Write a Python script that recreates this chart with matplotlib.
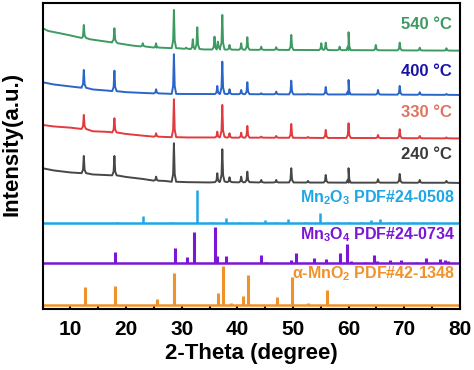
import matplotlib
matplotlib.use('Agg')
import matplotlib.pyplot as plt
import numpy as np

plt.rcParams['font.family'] = ['Liberation Sans', 'DejaVu Sans']
plt.rcParams['font.weight'] = 'bold'
plt.rcParams['mathtext.fontset'] = 'custom'
plt.rcParams['mathtext.rm'] = 'Liberation Sans:bold'
plt.rcParams['mathtext.it'] = 'Liberation Sans:bold'
plt.rcParams['mathtext.bf'] = 'Liberation Sans:bold'

###*** measured patterns: background points (2theta, I) and peaks (2theta, base, top)
bg_240 = [(5, 14.7), (7, 12.5), (10, 10.5), (14, 8.5), (16, 8), (20, 6), (23, 4),
          (27, 2), (31, 0.8), (35, 0.5), (45, 0.4), (60, 0.3), (80, 0)]
pk_240 = [(12.4, 9.8, 27), (17.9, 7.6, 27), (25.4, 2.3, 6.3), (28.6, 1.2, 39.7),
          (36.4, 0.8, 9.7), (37.3, 1.5, 33.7), (38.6, 0.8, 5.7), (40.7, 0.6, 6.3),
          (41.8, 0.8, 11.3), (44.3, 0.5, 3), (47.0, 0.5, 3), (49.7, 0.5, 14.7),
          (52.7, 0.4, 2), (55.9, 0.4, 8), (60.0, 0.3, 14.7), (65.3, 0.3, 3.7),
          (69.2, 0.3, 9), (72.8, 0.2, 3), (77.6, 0.2, 2)]

bg_330 = [(5, 13.5), (7, 12), (10, 10.8), (14, 7.2), (17, 6.5), (20, 4.5), (23, 2.8),
          (27, 1.5), (31, 1), (40, 0.8), (50, 0.7), (80, 0)]
pk_330 = [(12.4, 9.5, 23.5), (17.9, 6, 20.2), (25.4, 1.8, 5.2), (28.6, 1.3, 39.2),
          (36.4, 1, 6.8), (37.3, 1.5, 33.5), (38.6, 0.8, 5.2), (40.7, 0.8, 5.8),
          (41.8, 0.8, 12.5), (44.3, 0.8, 1.8), (47.0, 0.7, 2.5), (49.7, 0.7, 14.5),
          (52.7, 0.6, 1.5), (55.9, 0.5, 8.5), (60.0, 0.5, 15.2), (65.3, 0.4, 3.5),
          (69.2, 0.3, 9.2), (72.8, 0.2, 2.5), (77.6, 0.1, 1)]

bg_400 = [(5, 12.7), (7, 10.5), (10, 8.5), (12, 7.7), (14, 5.5), (17, 4.2), (20, 2.8),
          (24, 1.8), (30, 1), (40, 0.8), (60, 0.5), (80, 0)]
pk_400 = [(12.4, 7.2, 25), (17.9, 3.8, 24.3), (25.4, 1.6, 5.7), (28.6, 1.1, 40.7),
          (36.4, 0.9, 9), (37.3, 1.2, 33.3), (38.6, 0.8, 5.7), (40.7, 0.8, 5),
          (41.8, 0.8, 12.7), (44.3, 0.7, 1.7), (47.0, 0.7, 3.3), (49.7, 0.6, 14.3),
          (52.7, 0.6, 1), (55.9, 0.5, 8), (60.0, 0.5, 15), (65.3, 0.4, 5),
          (69.2, 0.3, 9), (72.8, 0.2, 2.7), (77.6, 0.1, 1)]

bg_540 = [(5, 22.7), (6, 20), (8.1, 17.7), (10, 15.5), (12.2, 13.7), (13.5, 11.7),
          (17.5, 9.3), (18.5, 7.7), (21, 5.5), (25.5, 3.3), (29.5, 2.7), (34, 1.5),
          (40, 1.2), (60, 0.8), (80, 0.3)]
pk_540 = [(12.4, 13, 26), (17.9, 8.5, 22.7), (23.0, 4.5, 7.7), (25.4, 3.4, 7.7),
          (28.6, 2.8, 41), (30.8, 2.2, 3.3), (32.0, 1.8, 11.7), (32.8, 2, 23.7),
          (35.9, 1.5, 14.3), (36.5, 3, 9.3), (37.3, 1.5, 36), (38.6, 1.3, 6),
          (40.7, 1.2, 7.7), (41.8, 1.2, 13.7), (44.3, 1.1, 4.3), (47.0, 1.1, 3.7),
          (49.7, 1, 16), (55.1, 0.9, 7.7), (55.9, 0.9, 8.3), (58.4, 0.8, 4.3),
          (60.0, 0.8, 18.7), (64.9, 0.7, 6), (69.2, 0.6, 8.3), (72.8, 0.5, 3.3),
          (77.6, 0.4, 2.7)]

###*** reference cards (2theta, relative intensity %)
mno2_pos = [12.7, 18.0, 25.6, 28.7, 36.6, 37.5, 38.8, 41.1, 42.0, 47.1, 49.8, 52.7, 56.2]
mno2_int = [45, 48, 15, 80, 30, 100, 5, 23, 75, 20, 70, 5, 37]

mn3o4_pos = [18.0, 28.8, 31.0, 32.3, 36.0, 36.4, 38.0, 44.3, 45.2, 49.6, 50.6, 53.8,
             56.0, 58.4, 59.8, 60.5, 62.9, 64.5, 65.2, 67.4, 69.5, 72.2, 74.0, 76.4,
             77.3, 77.9]
mn3o4_int = [32, 41, 18, 85, 100, 21, 21, 23, 4, 8, 27, 14, 11, 27, 52, 5, 4, 22, 5,
             8, 8, 4, 14, 11, 8, 5]

mn2o3_pos = [18.4, 23.0, 28.3, 32.8, 35.4, 38.0, 40.3, 42.6, 44.9, 46.9, 49.1, 52.1,
             54.9, 56.3, 57.9, 60.1, 62.3, 64.1, 65.6, 67.4, 68.9, 71.6, 73.4, 75.2]
mn2o3_int = [3, 23, 3, 100, 5, 15, 3, 3, 9, 3, 12, 3, 32, 3, 3, 3, 3, 9, 12, 5, 5,
             3, 3, 3]

temps = ['240 °C', '330 °C', '400 °C', '540 °C']


def trace(bg, pk, w=0.4):
    # peak drawn as a narrow spike with a slightly wider foot
    pts = list(bg)
    for p, b, t in pk:
        s = b + 0.2 * (t - b)
        pts += [(p - w, b), (p - 0.35 * w, s), (p, t), (p + 0.35 * w, s), (p + w, b)]
    pts.sort()
    return np.array(pts)


fig = plt.figure(figsize=(4.74, 3.70), dpi=100)
ax = fig.add_axes([0.090, 0.165, 0.880, 0.827])

patterns = [(bg_240, pk_240), (bg_330, pk_330), (bg_400, pk_400), (bg_540, pk_540)]
offsets = [126, 170.5, 214, 258]
line_cols = ['#474747', '#e23b3f', '#2a66c9', '#3d9b62']
text_cols = ['#3a3a3a', '#e07263', '#1a12a8', '#3d9b62']
label_y = [154, 196.3, 237.3, 284]

for (bg, pk), off, c, tc, lab, ly in zip(patterns, offsets, line_cols, text_cols, temps, label_y):
    d = trace(bg, pk)
    ax.plot(d[:, 0], d[:, 1] + off, color=c, lw=1.4)
    ax.text(78.6, ly, lab, color=tc, fontsize=12, fontweight='bold',
            ha='right', va='center')

# stick patterns
cards = [(mno2_pos, mno2_int, 4, 39.4, '#f0922a', r'α-MnO$_2$ PDF#42-1348', 35.7, 2.2),
         (mn3o4_pos, mn3o4_int, 45.7, 36.7, '#7a17d6', r'Mn$_3$O$_4$ PDF#24-0734', 74, 2.2),
         (mn2o3_pos, mn2o3_int, 85.7, 33, '#1ea6e6', r'Mn$_2$O$_3$ PDF#24-0508', 111.3, 1.8)]
for pos, inten, base, scale, c, lab, ly, lw in cards:
    ax.axhline(base, color=c, lw=1.8)
    ax.vlines(pos, base, base + np.array(inten) / 100 * scale, color=c, lw=lw)
    ax.text(79.1, ly, lab, color=c, fontsize=11.5, fontweight='bold',
            ha='right', va='center')

ax.set_xlim(5, 80)
ax.set_ylim(0, 306)
ax.set_xticks(range(10, 81, 10))
ax.set_xticks(range(5, 81, 5), minor=True)
ax.set_yticks([])
ax.tick_params(axis='x', which='both', direction='in', length=3, width=1.5,
               labelsize=15, pad=8)
for s in ax.spines.values():
    s.set_linewidth(1.5)

ax.set_xlabel('2-Theta (degree)', fontsize=16, fontweight='bold', labelpad=3)
ax.set_ylabel('Intensity(a.u.)', fontsize=16, fontweight='bold')
ax.yaxis.set_label_coords(-0.048, 0.54)

fig.savefig('out.png', dpi=100)
